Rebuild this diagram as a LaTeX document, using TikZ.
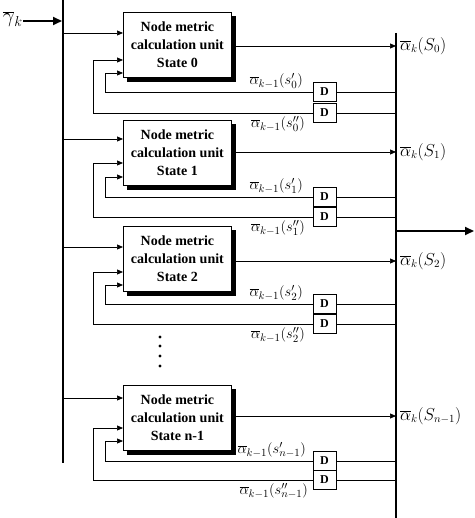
\documentclass[tikz,border=0pt]{standalone}
\usepackage{fontspec}
\setmainfont{Liberation Serif}
\usetikzlibrary{arrows.meta}
\begin{document}
\begin{tikzpicture}[x=1pt,y=-1pt,
  blk/.style={draw,line width=0.8pt,fill=white,minimum width=108pt,minimum height=65pt,inner sep=0pt,align=center,font=\bfseries\fontsize{14}{18}\selectfont,anchor=north west},
  dbox/.style={draw,line width=0.6pt,fill=white,minimum width=23pt,minimum height=19pt,inner sep=0pt,font=\bfseries\fontsize{12}{13}\selectfont},
  thinln/.style={line width=0.7pt},
  arr/.style={-{Triangle[length=6pt,width=5pt]}},
  bus/.style={line width=2.6pt},
  lbl/.style={font=\fontsize{15.5}{17}\selectfont,inner sep=0pt}]
\useasboundingbox (0,0) rectangle (474,518);
% buses
\coordinate (lt) at (63,0);
\coordinate (lb) at (63,463);
\coordinate (rt) at (396,33);
\coordinate (rbt) at (396,518);
% gamma input
\node[lbl,font=\fontsize{22}{24}\selectfont,anchor=east] (g) at (23,19) {$\overline{\gamma}_k$};
\coordinate (gb) at (62,21);
\draw[line width=2pt,-{Triangle[length=9pt,width=8pt]}] (g.east |- gb) -- (gb);
% output arrow
\coordinate (oo) at (396,231);
\coordinate (oe) at (474,231);
\draw[line width=2pt,-{Triangle[length=9pt,width=8pt]}] (oo) -- (oe);
% blocks
\foreach \n/\T/\ya/\yb/\yc/\yd/\ye/\yf/\st/\lx in {
  0/12/33/46/60/73/92/113/0/303,
  1/120/139/152/163/177/197/217/1/303,
  2/226/247/261/272/285/304/324/2/303,
  3/385/398/416/428/441/461/480/n-1/306}{
  \node[blk] (b\n) at (123,\T) {Node metric\\calculation unit\\State \st};
  \fill ([xshift=4pt]b\n.south west) rectangle ([xshift=4pt,yshift=-4pt]b\n.south east);
  \fill ([yshift=-4pt]b\n.north east) rectangle ([xshift=4pt,yshift=-4pt]b\n.south east);
  \coordinate (in\n) at (63,\ya);
  \draw[thinln,arr] (in\n) -- (b\n.west |- in\n);
  \coordinate (o\n) at (396,\yb);
  \draw[thinln,arr] (b\n.east |- o\n) -- (o\n);
  \node[lbl,anchor=west,font=\fontsize{16}{18}\selectfont] (ol\n) at (400,\yb) {$\overline{\alpha}_k(S_{\st})$};
  \node[dbox] (da\n) at (324.5,\ye) {D};
  \node[dbox] (db\n) at (324.5,\yf) {D};
  \coordinate (ra\n) at (396,\ye);
  \coordinate (rb\n) at (396,\yf);
  \coordinate (ka\n) at (105,\ye);
  \coordinate (kb\n) at (93,\yf);
  \coordinate (ea\n) at (123,\yd);
  \coordinate (eb\n) at (123,\yc);
  \draw[thinln] (ra\n) -- (da\n);
  \draw[thinln,arr] (da\n) -- (ka\n) |- (ea\n);
  \draw[thinln] (rb\n) -- (db\n);
  \draw[thinln,arr] (db\n) -- (kb\n) |- (eb\n);
  \node[lbl,anchor=east] (la\n) at (\lx,\ye-11) {$\overline{\alpha}_{k-1}(s'_{\st})$};
  \node[lbl,anchor=east] (lc\n) at (\lx+2,\yf+11) {$\overline{\alpha}_{k-1}(s''_{\st})$};
}
\draw[bus] (lt) -- (lb);
\draw[bus] (rt) -- (rbt);
% dots
\foreach \y [count=\i] in {337,346,356,366} \fill (160,\y) coordinate (dot\i) circle (1.7);
\end{tikzpicture}
\end{document}
